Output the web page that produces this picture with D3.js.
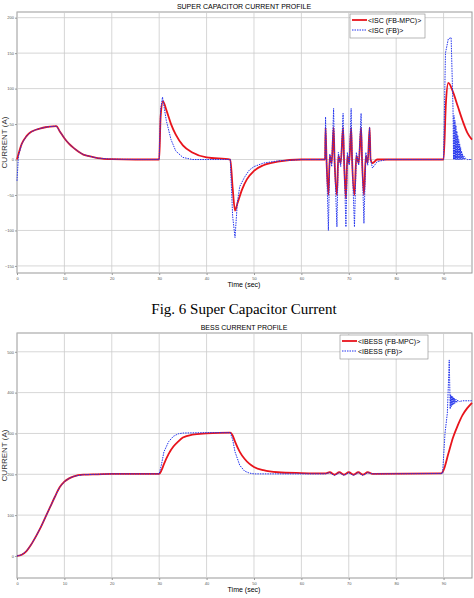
<!DOCTYPE html>
<html><head><meta charset="utf-8">
<script src="https://cdn.jsdelivr.net/npm/d3@7"></script>
<style>
body{margin:0;background:#fff;}
text{font-family:Arial,"Liberation Sans",sans-serif;}
.tick text{font-size:4px;fill:#555;}
.grid line{stroke:#ccc;stroke-width:0.8;}
</style></head>
<body><svg id="c" width="474" height="598"></svg>
<script>
var xTicks = [0,10,20,30,40,50,60,70,80,90];
var scTicks = [-150,-100,-50,0,50,100,150,200];
var bessTicks = [0,100,200,300,400,500];

var scMpc = [[0,0],[1,22],[2,33],[3,39],[4,42],[5,44],[6,45.5],[7,46.5],[8.3,47],[9,40],[10,30],[11,22],[12,16],[13,11],[14,7],[15,5],[17,2],[20,0.5],[25,0],[30,0],
  [30.3,60],[30.8,82],[31.5,70],[32.5,50],[33.5,35],[35,20],[37,10],[40,3],[45,0],
  [45.5,-40],[46,-72],[46.5,-62],[47.5,-42],[48.5,-28],[50,-16],[52,-8],[55,-3],[60,0],[65,0],
  [65.1,45],[65.3,0],[65.7,-50],[66,5],[66.4,-5],[66.8,45],[67,0],[67.5,-50],[67.8,5],[68.3,-5],[68.8,45],[69,0],[69.4,-55],[69.7,5],[70.1,-5],[70.5,45],[70.7,0],[71.2,-50],[71.6,5],[72.1,-5],[72.6,45],[72.8,0],[73.2,-50],[73.6,5],[74,-5],[74.4,45],[74.6,0],[75,-5],[76,0],
  [90,0],[90.5,80],[91,108],[92,95],[93,75],[94,55],[95,38],[96,28]];
var scFb = [[0,-30],[0.3,5],[1,22],[2,33],[3,39],[4,42],[5,44],[6,45.5],[7,46.5],[8.3,47],[9,40],[10,30],[11,22],[12,16],[13,11],[14,7],[15,5],[17,2],[20,0.5],[25,0],[30,0],
  [30.3,70],[30.7,88],[31.5,55],[32.5,28],[33.5,12],[35,3],[37,0],[45,0],
  [45.5,-80],[46,-110],[46.5,-60],[47,-38],[48,-25],[49,-15],[50,-10],[52,-5],[55,-2],[60,0],[65,0],
  [65.1,60],[65.3,0],[65.7,-100],[66,8],[66.4,-10],[66.8,72],[67,0],[67.5,-95],[67.8,10],[68.3,-10],[68.8,65],[69,0],[69.4,-95],[69.7,10],[70.1,-8],[70.5,72],[70.7,0],[71.2,-95],[71.6,10],[72.1,-8],[72.6,65],[72.8,0],[73.2,-90],[73.6,10],[74,-8],[74.4,45],[74.6,0],[75,-12],[76,-3],[78,0],
  [90,0],[90.4,150],[91,170],[91.6,172],[92,70],[92.1,0],[92.2,62],[92.3,0],[92.4,55],[92.5,0],[92.6,48],[92.7,0],[92.8,40],[92.9,0],[93,34],[93.1,0],[93.2,28],[93.3,0],[93.4,22],[93.5,0],[93.6,17],[93.7,0],[93.8,12],[93.9,0],[94,8],[94.1,0],[94.3,5],[94.4,0],[94.6,2],[95,0],[96,0]];

var bessMpc = [[0,0],[1,3],[2,12],[3,28],[4,48],[5,70],[6,95],[7,120],[8,145],[9,168],[10,182],[11,190],[12,195],[14,199],[17,200],[20,201],[30,201],
  [30.5,210],[31,225],[32,250],[33,268],[34,280],[35,290],[37,297],[40,300],[45,302],
  [45.5,295],[46,280],[47,255],[48,238],[49,226],[50,218],[52,210],[55,205],[60,203],[65,202],
  [66,205],[67,199],[68,205],[69,199],[70,205],[71,199],[72,205],[73,199],[74,205],[75,201],[89.5,202],
  [90,210],[91,250],[92,290],[93,320],[94,345],[95,362],[96,375]];
var bessFb = [[0,0],[1,3],[2,12],[3,28],[4,48],[5,70],[6,95],[7,120],[8,145],[9,168],[10,182],[11,190],[12,195],[14,199],[17,200],[20,201],[30,201],
  [30.5,225],[31,255],[32,280],[33,293],[34,299],[35,301],[40,302],[45,302],
  [45.5,285],[46,255],[47,222],[48,208],[49,203],[50,201],[65,201],
  [66,204],[67,197],[68,204],[69,197],[70,204],[71,197],[72,204],[73,197],[74,204],[75,201],[89.8,202],
  [90.3,300],[90.8,350],[91.2,480],[91.4,360],[91.5,395],[91.6,365],[91.7,392],[91.8,368],[91.9,390],[92,370],[92.1,388],[92.2,372],[92.3,386],[92.4,374],[92.6,384],[92.8,376],[93,382],[93.3,378],[94,380],[96,380]];

var svg = d3.select("#c");

function panel(top, bottom, ydom, yticks, title, legendNames, red, blue, legX, legW) {
  var x = d3.scaleLinear().domain([0, 96]).range([17, 472]);
  var y = d3.scaleLinear().domain(ydom).range([bottom, top]);
  var g = svg.append("g");
  g.append("rect").attr("x", 17).attr("y", top).attr("width", 455).attr("height", bottom - top)
    .style("fill", "#fff").style("stroke", "#999");
  g.append("g").attr("class", "grid").selectAll("line").data(xTicks).enter().append("line")
    .attr("x1", function(d) { return x(d); }).attr("x2", function(d) { return x(d); })
    .attr("y1", top).attr("y2", bottom);
  g.append("g").attr("class", "grid").selectAll("line").data(yticks).enter().append("line")
    .attr("y1", function(d) { return y(d); }).attr("y2", function(d) { return y(d); })
    .attr("x1", 17).attr("x2", 472);
  g.append("g").attr("transform", "translate(0," + bottom + ")")
    .call(d3.axisBottom(x).tickValues(xTicks).tickSize(2).tickPadding(2))
    .call(function(a) { a.select(".domain").remove(); a.selectAll("line").style("stroke", "#999"); });
  g.append("g").attr("transform", "translate(17,0)")
    .call(d3.axisLeft(y).tickValues(yticks).tickSize(2).tickPadding(1))
    .call(function(a) { a.select(".domain").remove(); a.selectAll("line").style("stroke", "#999"); });
  var line = d3.line().x(function(d) { return x(d[0]); }).y(function(d) { return y(d[1]); });
  g.append("path").datum(red).attr("d", line.curve(d3.curveMonotoneX))
    .style("fill", "none").style("stroke", "#e8141c").style("stroke-width", 1.8);
  g.append("path").datum(blue).attr("d", line.curve(d3.curveLinear))
    .style("fill", "none").style("stroke", "#2233ee").style("stroke-width", 1).style("stroke-dasharray", "1.5,1");
  g.append("text").text(title).attr("x", 244).attr("y", top - 3).style("font-size", "7px").style("text-anchor", "middle");
  g.append("text").text("CURRENT (A)").attr("transform", "translate(7," + (top + bottom) / 2 + ") rotate(-90)")
    .style("font-size", "8px").style("text-anchor", "middle").style("fill", "#333");
  g.append("text").text("Time (sec)").attr("x", 244).attr("y", bottom + 14).style("font-size", "7px").style("text-anchor", "middle");
  var lg = g.append("g");
  lg.append("rect").attr("x", legX).attr("y", top + 2).attr("width", legW).attr("height", 24)
    .style("fill", "#fff").style("stroke", "#888").style("stroke-width", 0.6);
  [0, 1].forEach(function(i) {
    var yy = top + 8 + i * 10;
    lg.append("line").attr("x1", legX + 2).attr("x2", legX + 17).attr("y1", yy).attr("y2", yy)
      .style("stroke", i ? "#2233ee" : "#e8141c").style("stroke-width", i ? 1 : 1.8)
      .style("stroke-dasharray", i ? "1.5,1" : null);
    lg.append("text").text(legendNames[i]).attr("x", legX + 18).attr("y", yy + 2.5).style("font-size", "7px");
  });
}

panel(12, 273, [-160, 208], scTicks, "SUPER CAPACITOR CURRENT PROFILE", ["<ISC (FB-MPC)>", "<ISC (FB)>"], scMpc, scFb, 350, 75);
panel(333, 578, [-54, 546], bessTicks, "BESS CURRENT PROFILE", ["<IBESS (FB-MPC)>", "<IBESS (FB)>"], bessMpc, bessFb, 340, 88);

svg.append("text").text("Fig. 6 Super Capacitor Current").attr("x", 244).attr("y", 314)
  .style("font-family", "Liberation Serif, serif").style("font-size", "15px").style("text-anchor", "middle");
</script></body></html>
